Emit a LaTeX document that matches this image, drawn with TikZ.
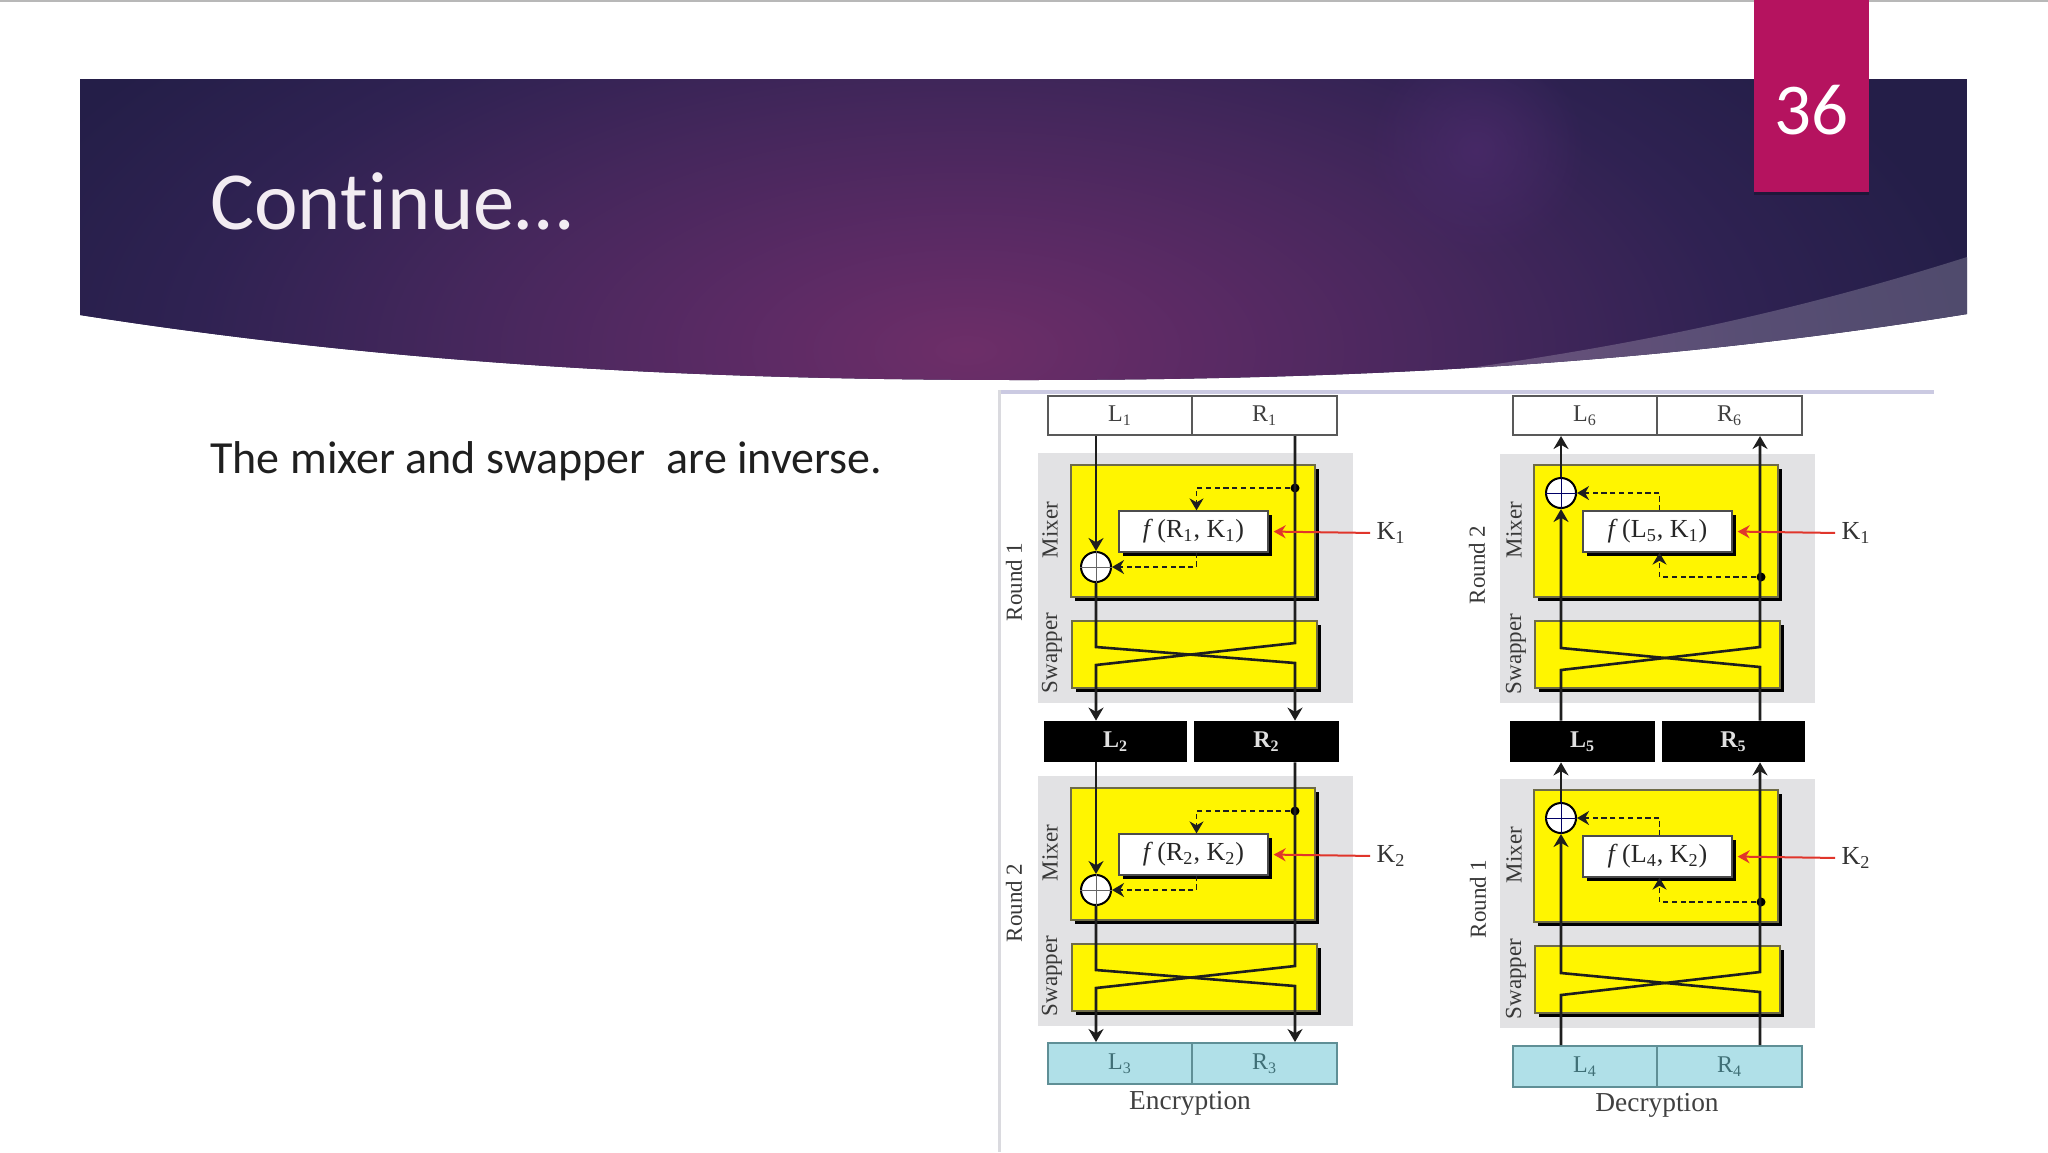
\documentclass[tikz,border=0pt]{standalone}
\usepackage{fontspec}
\setmainfont{Liberation Serif}
\newfontfamily\slidefont[Ligatures=NoCommon]{Carlito}
\usetikzlibrary{arrows.meta,shadows,fadings}
\definecolor{bandDark}{HTML}{241E48}
\definecolor{bandA}{HTML}{5A2A64}
\definecolor{bandMid}{HTML}{45275C}
\definecolor{bandB}{HTML}{2F2252}
\definecolor{bandCore}{HTML}{6D2E68}
\definecolor{glowCol}{HTML}{4A2A6A}
\definecolor{tabCol}{HTML}{B5135F}
\definecolor{titleCol}{HTML}{F2ECF2}
\definecolor{panelCol}{HTML}{E2E2E4}
\definecolor{yellowCol}{HTML}{FFF500}
\definecolor{blueBox}{HTML}{B0E0E8}
\definecolor{blueEdge}{HTML}{5F8F96}
\definecolor{blueText}{HTML}{3F6F76}
\definecolor{wireCol}{HTML}{1E1E1E}
\definecolor{keyRed}{HTML}{E0352B}
\definecolor{frameTop}{HTML}{CBCAE2}
\definecolor{frameLeft}{HTML}{DADADF}
\pgfdeclareradialshading{bandglow}{\pgfpoint{0bp}{0bp}}{color(0bp)=(bandCore); color(6bp)=(bandA); color(12.5bp)=(bandMid); color(19bp)=(bandB); color(25bp)=(bandDark); color(50bp)=(bandDark)}
\tikzfading[name=glowfade, inner color=transparent!0, outer color=transparent!100]
\tikzset{
  x=0.5pt,y=-0.5pt,
  panel/.style={fill=panelCol,draw=none},
  yellowbox/.style={fill=yellowCol,draw=black!65!yellow,line width=0.6pt,general shadow={fill=black,draw=none,shadow xshift=2pt,shadow yshift=-2pt}},
  funcbox/.style={fill=white,draw=black!70,line width=0.6pt,font=\fontsize{13}{13}\selectfont,text=black!85,general shadow={fill=black,draw=none,shadow xshift=2pt,shadow yshift=-2pt}},
  plainbox/.style={fill=white,draw=black!65,line width=1pt,font=\fontsize{12}{12}\selectfont,text=black!75},
  bluebox/.style={fill=blueBox,draw=blueEdge,line width=1pt,font=\fontsize{12}{12}\selectfont,text=blueText},
  blackbox/.style={fill=black,draw=none,font=\bfseries\fontsize{12}{12}\selectfont,text=white!88!black},
  wire/.style={draw=wireCol,line width=1.3pt},
  wirearrow/.style={wire,-{Stealth[length=6.5pt,width=7.5pt]}},
  dashline/.style={draw=wireCol,line width=0.9pt,dash pattern=on 2.6pt off 1.8pt,-{Stealth[length=6pt,width=7pt]}},
  keyarrow/.style={draw=keyRed,line width=1pt,-{Stealth[length=6pt,width=6.5pt]},shorten >=2.5pt,shorten <=2pt},
  xorgate/.style={circle,draw=black,fill=white,line width=1pt,minimum size=15pt,inner sep=0pt},
  wiredot/.style={circle,fill=black,minimum size=4.5pt,inner sep=0pt},
  sidelabel/.style={rotate=90,font=\fontsize{11.5}{12}\selectfont,text=black!78,inner sep=0pt},
  keylabel/.style={font=\fontsize{13}{13}\selectfont,text=black!80,inner sep=1pt},
  caption/.style={font=\fontsize{13.7}{14}\selectfont,text=black!75,inner sep=0pt},
}
\newcommand{\bx}[7]{\node[#6,minimum width={(#4-#2)*0.5pt},minimum height={(#5-#3)*0.5pt},inner sep=0pt] (#1) at ({(#2+#4)/2},{(#3+#5)/2}) {#7};}
\newcommand{\ssb}[1]{\textsubscript{#1}}
% #1 prefix, #2 dy, #3 f text, #4 key, #5 top L, #6 top R, #7 bottom L, #8 bottom R
\newcommand{\encround}[8]{%
\begin{scope}[shift={(0,#2)}]
  \bx{#1panel}{1038}{453}{1353}{703}{panel}{}
  \bx{#1mix}{1071}{465}{1315}{597}{yellowbox}{}
  \bx{#1swap}{1072}{621}{1317}{688}{yellowbox}{}
  \node[sidelabel] (#1mixlab) at (1050,530) {Mixer};
  \node[sidelabel] (#1swaplab) at (1052,653) {Swapper};
  \coordinate (#1wl) at (1096,0);
  \coordinate (#1wr) at (1295,0);
  \coordinate (#1a) at (1096,647);
  \coordinate (#1b) at (1295,663);
  \coordinate (#1c) at (1295,643);
  \coordinate (#1d) at (1096,665);
  \node[xorgate] (#1xor) at (1096,567) {};
  \bx{#1f}{1119}{511}{1268}{552}{funcbox}{#3}
  \node[wiredot] (#1dot) at (1295,488) {};
  \node[keylabel] (#1key) at (1391,533) {#4};
  \draw[wirearrow] (#5.south -| #1wl) -- (#1xor.north);
  \draw[wirearrow] (#1xor.south) -- (#1a) -- (#1b) -- (#8.north -| #1wr);
  \draw[wirearrow] (#6.south -| #1wr) -- (#1c) -- (#1d) -- (#7.north -| #1wl);
  \draw[dashline] (#1dot) -| ([xshift=1.5pt]#1f.north);
  \draw[dashline] ([xshift=1.5pt]#1f.south) |- (#1xor.east);
  \draw[keyarrow] (#1key.west) -- (#1f.east);
  \draw[line width=0.5pt,black!60] (#1xor.north) -- (#1xor.south) (#1xor.west) -- (#1xor.east);
\end{scope}}
\newcommand{\decround}[8]{%
\begin{scope}[shift={(0,#2)}]
  \bx{#1panel}{1500}{454}{1815}{703}{panel}{}
  \bx{#1mix}{1534}{465}{1778}{597}{yellowbox}{}
  \bx{#1swap}{1535}{621}{1780}{688}{yellowbox}{}
  \node[sidelabel] (#1mixlab) at (1514,530) {Mixer};
  \node[sidelabel] (#1swaplab) at (1516,654) {Swapper};
  \coordinate (#1wl) at (1561,0);
  \coordinate (#1wr) at (1760,0);
  \coordinate (#1a) at (1561,670);
  \coordinate (#1b) at (1760,647);
  \coordinate (#1c) at (1760,667);
  \coordinate (#1d) at (1561,648);
  \node[xorgate] (#1xor) at (1561,493) {};
  \bx{#1f}{1583}{511}{1732}{552}{funcbox}{#3}
  \node[wiredot] (#1dot) at (1761,577) {};
  \node[keylabel] (#1key) at (1856,533) {#4};
  \draw[wirearrow] (#7.north -| #1wl) -- (#1a) -- (#1b) -- (#6.south -| #1wr);
  \draw[wirearrow] (#8.north -| #1wr) -- (#1c) -- (#1d) -- (#1xor.south);
  \draw[wirearrow] (#1xor.north) -- (#5.south -| #1wl);
  \draw[dashline] ([xshift=1pt]#1f.north) |- (#1xor.east);
  \draw[dashline] (#1dot) -| ([xshift=1pt]#1f.south);
  \draw[keyarrow] (#1key.west) -- (#1f.east);
  \draw[line width=0.5pt,blue!40!black] (#1xor.north) -- (#1xor.south) (#1xor.west) -- (#1xor.east);
\end{scope}}
\begin{document}
\begin{tikzpicture}
\useasboundingbox (0,0) rectangle (2048,1152);
\fill[white] (0,0) rectangle (2048,1152);
\fill[black!28] (0,0) rectangle (2048,2);
% banner
\begin{scope}
  \clip (80,79) -- (1967,79) -- (1967,314) .. controls (1650,365) and (1350,380) .. (1024,380) .. controls (700,380) and (400,365) .. (80,315) -- cycle;
  \fill[bandDark] (80,79) rectangle (1967,400);
  \shade[shading=bandglow] (966,350) ellipse [x radius=1020,y radius=480];
  \fill[glowCol,path fading=glowfade,opacity=.8] (1476,150) circle [radius=110];
  \fill[white,opacity=.2] (1440,372) .. controls (1640,345) and (1800,310) .. (1967,257) -- (1967,400) -- (1440,400) -- cycle;
\end{scope}
% page tab
\fill[black,opacity=.25] (1754,190) rectangle (1869,195);
\node[fill=tabCol,minimum width=57.5pt,minimum height=96pt,inner sep=0pt] (tab) at (1811.5,96) {};
\node[font=\slidefont\fontsize{36.5}{36.5}\selectfont,text=white,inner sep=0pt] (num) at (1811,110) {36};
\node[anchor=base west,font=\slidefont\fontsize{41.3}{41}\selectfont,text=titleCol,inner sep=0pt] (title) at (210,229) {Continue…};
\node[anchor=base west,font=\slidefont\fontsize{23}{23}\selectfont,text=black!88,inner sep=0pt] (body) at (210,473) {The mixer and swapper\ \ are inverse.};
% figure frame
\fill[frameTop] (998,390) rectangle (1934,393.5);
\fill[frameLeft] (998,390) rectangle (1000.5,1152);
% boxes: encryption
\bx{l1}{1048}{396}{1192}{435}{plainbox}{L\ssb{1}}
\bx{r1}{1192}{396}{1337}{435}{plainbox}{R\ssb{1}}
\bx{l2}{1044}{721}{1187}{762}{blackbox}{L\ssb{2}}
\bx{r2}{1194}{721}{1339}{762}{blackbox}{R\ssb{2}}
\bx{l3}{1048}{1043}{1192}{1084}{bluebox}{L\ssb{3}}
\bx{r3}{1192}{1043}{1337}{1084}{bluebox}{R\ssb{3}}
% boxes: decryption
\bx{l6}{1513}{396}{1657}{435}{plainbox}{L\ssb{6}}
\bx{r6}{1657}{396}{1802}{435}{plainbox}{R\ssb{6}}
\bx{l5}{1510}{721}{1655}{762}{blackbox}{L\ssb{5}}
\bx{r5}{1662}{721}{1805}{762}{blackbox}{R\ssb{5}}
\bx{l4}{1513}{1046}{1657}{1087}{bluebox}{L\ssb{4}}
\bx{r4}{1657}{1046}{1802}{1087}{bluebox}{R\ssb{4}}
% rounds
\encround{ea}{0}{\textit{f}\,(R\ssb{1}, K\ssb{1})}{K\ssb{1}}{l1}{r1}{l2}{r2}
\encround{eb}{323}{\textit{f}\,(R\ssb{2}, K\ssb{2})}{K\ssb{2}}{l2}{r2}{l3}{r3}
\decround{da}{0}{\textit{f}\,(L\ssb{5}, K\ssb{1})}{K\ssb{1}}{l6}{r6}{l5}{r5}
\decround{db}{325}{\textit{f}\,(L\ssb{4}, K\ssb{2})}{K\ssb{2}}{l5}{r5}{l4}{r4}
\node[sidelabel] (rnd1) at (1014,582) {Round 1};
\node[sidelabel] (rnd2) at (1014,903) {Round 2};
\node[sidelabel] (rnd3) at (1477,565) {Round 2};
\node[sidelabel] (rnd4) at (1478,899) {Round 1};
\node[caption] (enc) at (1190,1103) {Encryption};
\node[caption] (dec) at (1657,1105) {Decryption};
\end{tikzpicture}
\end{document}
